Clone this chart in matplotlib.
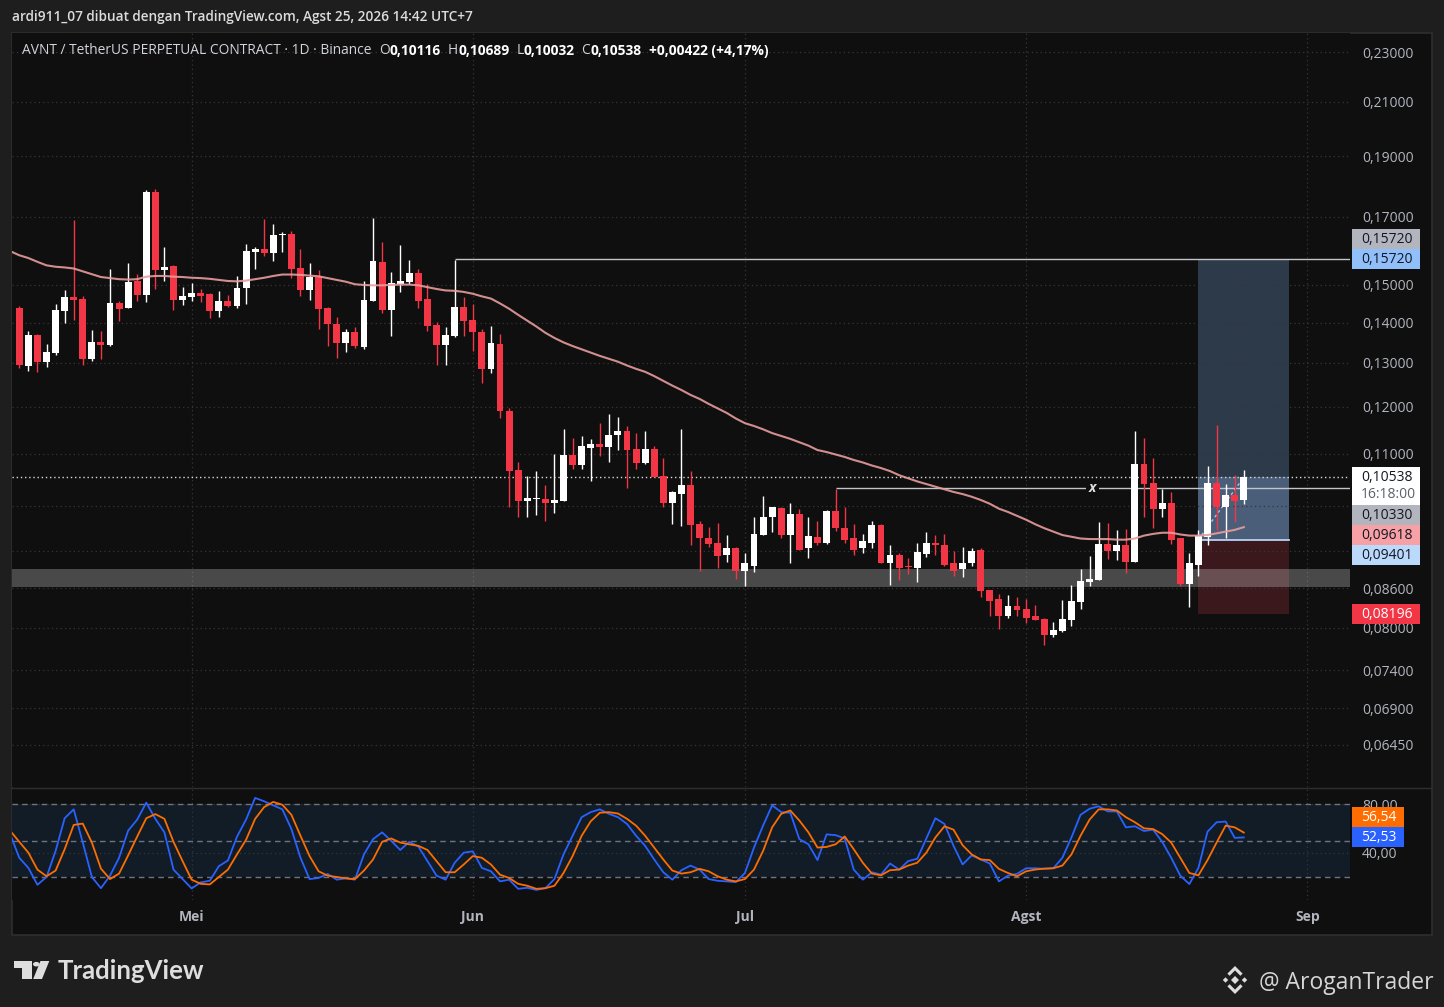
import numpy as np
import pandas as pd
import matplotlib
matplotlib.use('Agg')
import matplotlib.pyplot as plt
import matplotlib.dates as mdates
from matplotlib.patches import Rectangle, Polygon, Circle
from matplotlib.lines import Line2D
from matplotlib.ticker import NullLocator

plt.rcParams['font.family'] = ['Open Sans', 'DejaVu Sans']

W, H = 1444, 1007

# daily candles AVNT/USDT perp, 12 Apr -> 25 Aug 2026
dates = pd.date_range('2026-04-12', periods=136, freq='D')
opens = [.1439, .1293, .1368, .1302, .1324, .1430, .1467, .1462, .1309, .1351,
         .1344, .1451, .1438, .1511, .1473, .1778, .1542, .1553, .1459, .1467,
         .1478, .1475, .1430, .1456, .1443, .1492, .1593, .1602, .1590, .1644,
         .1647, .1548, .1486, .1522, .1438, .1397, .1349, .1376, .1339, .1456,
         .1564, .1433, .1503, .1508, .1533, .1462, .1394, .1344, .1366, .1441,
         .1407, .1376, .1285, .1346, .1191, .1068, .1009, .1013, .1013, .1006,
         .1009, .1098, .1078, .1113, .1121, .1115, .1140, .1148, .1110, .1082,
         .1110, .1057, .1006, .1022, .1039, .0968, .0943, .0935, .0914, .0926,
         .0888, .0896, .0948, .0979, .0997, .0948, .0986, .0925, .0945, .0935,
         .0991, .0961, .0942, .0925, .0935, .0966, .0901, .0914, .0896, .0893,
         .0916, .0935, .0931, .0900, .0890, .0900, .0923, .0857, .0843, .0817,
         .0832, .0828, .0817, .0813, .0789, .0795, .0811, .0839, .0870, .0873,
         .0933, .0921, .0931, .0903, .1080, .1043, .0995, .1006, .0942, .0867,
         .0898, .0945, .1043, .0998, .1020, .10116]
highs = [.1443, .1378, .1371, .1346, .1449, .1486, .1690, .1470, .1381, .1378,
         .1545, .1456, .1562, .1531, .1784, .1788, .1608, .1556, .1494, .1506,
         .1489, .1478, .1483, .1473, .1525, .1617, .1608, .1693, .1678, .1653,
         .1656, .1602, .1562, .1542, .1441, .1415, .1384, .1389, .1511, .1696,
         .1623, .1536, .1614, .1570, .1545, .1503, .1402, .1389, .1570, .1467,
         .1449, .1384, .1391, .1371, .1197, .1084, .1057, .1066, .1039, .1100,
         .1152, .1133, .1137, .1131, .1165, .1184, .1178, .1158, .1144, .1148,
         .1117, .1092, .1028, .1152, .1066, .0973, .0962, .0970, .0948, .0928,
         .0918, .0980, .1018, .0998, .0998, .1006, .0995, .0980, .0973, .0993,
         .1032, .0998, .0968, .0950, .0973, .0968, .0930, .0918, .0909, .0935,
         .0954, .0948, .0950, .0920, .0928, .0925, .0925, .0857, .0851, .0849,
         .0846, .0843, .0834, .0814, .0808, .0842, .0865, .0890, .0913, .0971,
         .0970, .0957, .0959, .1148, .1133, .1092, .1032, .1026, .0942, .0918,
         .0957, .1076, .1161, .1041, .1058, .10689]
lows = [.1288, .1281, .1279, .1291, .1319, .1400, .1407, .1295, .1304, .1309,
        .1341, .1403, .1438, .1456, .1454, .1489, .1512, .1433, .1446, .1456,
        .1454, .1412, .1415, .1441, .1438, .1449, .1545, .1582, .1567, .1593,
        .1520, .1470, .1459, .1384, .1341, .1312, .1326, .1336, .1334, .1456,
        .1425, .1366, .1481, .1503, .1438, .1378, .1295, .1295, .1363, .1366,
        .1329, .1253, .1276, .1175, .0998, .0980, .0980, .0984, .0973, .0988,
        .1009, .1070, .1070, .1047, .1096, .1084, .1108, .1034, .1070, .1080,
        .1055, .0998, .0968, .0964, .0931, .0888, .0928, .0893, .0903, .0875,
        .0863, .0886, .0948, .0954, .0942, .0900, .0923, .0909, .0931, .0933,
        .0955, .0935, .0914, .0918, .0926, .0900, .0865, .0873, .0882, .0870,
        .0911, .0914, .0895, .0880, .0877, .0896, .0846, .0817, .0798, .0814,
        .0817, .0807, .0811, .0775, .0786, .0794, .0802, .0828, .0863, .0873,
        .0908, .0906, .0885, .0903, .0979, .0961, .0979, .0933, .0863, .0831,
        .0880, .0931, .0957, .0942, .0971, .10032]
closes = [.1295, .1368, .1302, .1326, .1433, .1467, .1459, .1309, .1351, .1344,
          .1451, .1436, .1508, .1473, .1778, .1542, .1550, .1459, .1470, .1478,
          .1470, .1430, .1456, .1443, .1492, .1596, .1602, .1590, .1644, .1647,
          .1545, .1486, .1522, .1436, .1397, .1349, .1376, .1341, .1459, .1567,
          .1433, .1506, .1511, .1533, .1456, .1391, .1344, .1368, .1441, .1405,
          .1376, .1285, .1349, .1191, .1066, .1009, .1015, .1015, .1006, .1011,
          .1098, .1078, .1117, .1121, .1115, .1140, .1148, .1108, .1082, .1110,
          .1055, .1006, .1026, .1039, .0966, .0942, .0933, .0913, .0926, .0888,
          .0900, .0950, .0980, .0998, .0948, .0986, .0923, .0947, .0935, .0990,
          .0961, .0940, .0923, .0937, .0966, .0901, .0914, .0893, .0894, .0919,
          .0935, .0930, .0898, .0888, .0901, .0921, .0855, .0840, .0817, .0832,
          .0826, .0814, .0811, .0789, .0797, .0813, .0840, .0871, .0875, .0933,
          .0921, .0931, .0903, .1080, .1041, .0995, .1006, .0940, .0867, .0900,
          .0947, .1043, .0998, .1020, .1009, .10538]

# indicator values (one extra bar at the left edge)
ind_dates = pd.date_range('2026-04-11', periods=137, freq='D')
ma = [0.1596, 0.1584, 0.1576, 0.1565, 0.1555, 0.1551, 0.1549, 0.1546, 0.1538, 0.1530,
      0.1522, 0.1519, 0.1516, 0.1515, 0.1516, 0.1523, 0.1525, 0.1525, 0.1523, 0.1522,
      0.1520, 0.1519, 0.1517, 0.1514, 0.1511, 0.1510, 0.1512, 0.1516, 0.1520, 0.1525,
      0.1529, 0.1529, 0.1528, 0.1526, 0.1524, 0.1519, 0.1514, 0.1509, 0.1502, 0.1500,
      0.1499, 0.1499, 0.1500, 0.1501, 0.1501, 0.1499, 0.1494, 0.1489, 0.1485, 0.1484,
      0.1481, 0.1476, 0.1469, 0.1463, 0.1450, 0.1436, 0.1420, 0.1405, 0.1390, 0.1374,
      0.1361, 0.1350, 0.1341, 0.1333, 0.1325, 0.1317, 0.1310, 0.1303, 0.1294, 0.1286,
      0.1279, 0.1269, 0.1258, 0.1247, 0.1237, 0.1226, 0.1217, 0.1206, 0.1196, 0.1186,
      0.1174, 0.1164, 0.1158, 0.1151, 0.1143, 0.1137, 0.1131, 0.1124, 0.1117, 0.1108,
      0.1104, 0.1099, 0.1094, 0.1088, 0.1083, 0.1077, 0.1072, 0.1066, 0.1058, 0.1052,
      0.1046, 0.1041, 0.1036, 0.1031, 0.1026, 0.1022, 0.1017, 0.1011, 0.1004, 0.0995,
      0.0989, 0.0982, 0.0975, 0.0967, 0.0960, 0.0954, 0.0948, 0.0945, 0.0942, 0.0941,
      0.0941, 0.0941, 0.0940, 0.0940, 0.0942, 0.0947, 0.0950, 0.0952, 0.0952, 0.0949,
      0.0947, 0.0947, 0.0948, 0.0951, 0.0954, 0.0957, 0.09618]
stoch_k = [55.0, 35.8, 27.5, 13.6, 20.0, 41.4, 68.3, 75.6, 48.3, 20.0, 10.8,
           21.1, 35.8, 58.1, 67.2, 81.1, 67.8, 56.7, 26.1, 18.3, 10.6,
           15.6, 16.9, 28.9, 33.6, 53.1, 67.2, 85.0, 82.2, 78.9, 75.6,
           59.4, 35.8, 18.3, 19.2, 22.5, 17.8, 18.9, 17.8, 38.6, 51.1,
           56.7, 49.7, 42.2, 48.9, 45.0, 33.1, 21.1, 17.8, 31.7, 40.0,
           41.1, 27.5, 24.7, 16.4, 17.8, 10.3, 11.1, 9.4, 10.8, 18.3,
           38.6, 53.9, 69.2, 73.3, 75.6, 71.9, 69.2, 63.6, 53.9, 45.6,
           34.4, 23.9, 17.8, 25.6, 29.4, 26.1, 18.3, 16.9, 16.4, 15.8,
           23.3, 44.2, 62.2, 78.9, 73.3, 72.8, 51.1, 46.9, 33.9, 55.0,
           54.4, 51.7, 26.1, 17.8, 23.9, 21.9, 31.1, 26.1, 33.1, 35.0,
           51.7, 68.3, 63.6, 45.6, 30.3, 37.8, 34.4, 31.1, 16.4, 21.1,
           22.6, 27.2, 27.2, 26.7, 27.2, 35.8, 52.5, 71.1, 76.1, 78.1,
           73.9, 73.9, 60.8, 61.7, 57.8, 58.9, 48.9, 35.8, 21.1, 14.2,
           27.5, 57.2, 65.0, 65.6, 52.2, 52.53]
stoch_d = [58.0, 48.9, 40.0, 26.1, 20.6, 25.3, 42.8, 62.8, 63.9, 48.3, 26.9,
           18.3, 22.8, 37.8, 53.3, 68.3, 71.7, 67.8, 48.9, 33.1, 17.8,
           14.4, 13.9, 20.0, 26.1, 38.6, 50.6, 67.8, 77.5, 81.7, 79.4,
           71.1, 53.9, 37.2, 24.7, 21.1, 20.0, 18.9, 18.3, 25.3, 34.4,
           48.9, 51.7, 48.3, 46.9, 45.6, 42.2, 33.1, 23.9, 23.9, 30.3,
           37.2, 35.8, 30.3, 21.9, 19.2, 14.4, 12.8, 10.3, 10.8, 12.8,
           23.3, 37.2, 53.9, 65.8, 72.8, 73.3, 72.2, 67.8, 62.2, 53.9,
           44.2, 34.4, 25.3, 22.8, 23.9, 26.7, 24.7, 20.6, 17.8, 16.4,
           18.3, 26.1, 41.4, 60.8, 71.9, 74.7, 66.4, 56.7, 44.2, 44.7,
           46.9, 53.3, 42.8, 31.7, 22.8, 21.4, 25.6, 26.1, 29.4, 31.7,
           40.0, 52.5, 61.7, 58.9, 46.1, 38.6, 34.4, 33.9, 26.7, 23.3,
           20.6, 24.7, 26.1, 26.9, 27.2, 29.4, 38.6, 53.9, 67.2, 75.6,
           75.6, 74.7, 69.2, 65.0, 60.0, 59.4, 55.3, 48.3, 35.8, 23.3,
           21.4, 33.9, 48.3, 62.2, 60.8, 56.54]

month_ticks = pd.to_datetime(['2026-05-01', '2026-06-01', '2026-07-01', '2026-08-01', '2026-09-01'])
month_labels = ['Mei', 'Jun', 'Jul', 'Agst', 'Sep']
price_ticks = [0.23, 0.21, 0.19, 0.17, 0.15, 0.14, 0.13, 0.12, 0.11, 0.10, 0.092,
               0.086, 0.080, 0.074, 0.069, 0.0645]
hidden_ticks = [0.10, 0.092]

target, entry, stop = 0.1572, 0.09401, 0.08196
level_high, level_mid = 0.1572, 0.1033
support_lo, support_hi = 0.0861, 0.0890
countdown = '16:18:00'

FS = 10


def fmt(v):
    return f'{v:.5f}'.replace('.', ',')


def fx(px):
    return px / W


def fy(py):
    return 1 - py / H


x = mdates.date2num(dates)
xi = mdates.date2num(ind_dates)
o, h, l, c = map(np.array, (opens, highs, lows, closes))
col = np.where(c >= o, '#ffffff', '#f23645')

fig = plt.figure(figsize=(W / 100, H / 100), dpi=100, facecolor='#1e1e1e')
fig.add_artist(Rectangle((fx(11.5), fy(934.5)), (1432 - 11.5) / W, (934.5 - 32.5) / H,
                         transform=fig.transFigure, fc='#0f0f0f', ec='#2e2e2e', lw=1.2, zorder=-5))

ax = fig.add_axes([fx(12), fy(787), 1338 / W, 754 / H])
ax2 = fig.add_axes([fx(12), fy(900), 1338 / W, 112 / H])
for a in (ax, ax2):
    a.set_facecolor('#0f0f0f')
    for s in a.spines.values():
        s.set_visible(False)
    a.set_xlim(x[0] - 0.805, x[0] + 146.71)
    a.set_xticks(mdates.date2num(month_ticks))
    a.grid(True, color='#363636', ls=(0, (1, 2.5)), lw=0.9)
    a.set_axisbelow('line')
    a.yaxis.tick_right()
    a.tick_params(length=0, labelsize=FS, labelcolor='#b2b5be', pad=8.6)
ax.tick_params(axis='x', labelbottom=False)

# price pane
ax.set_yscale('log')
ax.set_ylim(0.059705, 0.23817)
ax.set_yticks(price_ticks)
ax.set_yticklabels(['' if p in hidden_ticks else fmt(p) for p in price_ticks])
ax.yaxis.set_minor_locator(NullLocator())
xr = ax.get_xlim()[1]

# long position tool
xs, xe = x[130], x[130] + 10
ax.fill_between([xs, xe], entry, target, color='#2d3a4a', lw=0, zorder=1)
ax.fill_between([xs, xe], entry, c[-1], color='#4a5e79', lw=0, zorder=1.1)
ax.fill_between([xs, xe], stop, entry, color='#3a181c', lw=0, zorder=1)
ax.plot([xs, xe], [entry, entry], color='#b7d3f5', lw=1.3, zorder=2.2)
ax.plot([xs, x[-1]], [entry, c[-1]], color='#a9c3e6', lw=1, ls=(0, (2, 2)), zorder=2.2)

ax.axhspan(support_lo, support_hi, color='#e0e0e0', alpha=0.28, lw=0, zorder=2)
ax.hlines(level_high, x[48], xr, color='#c3c5cb', lw=1, zorder=2.5)
ax.hlines(level_mid, x[90], xr, color='#c3c5cb', lw=1, zorder=2.5)
ax.text((x[90] + xr) / 2, level_mid, 'x', ha='center', va='center', color='#e0e0e0',
        style='italic', weight='bold', fontsize=10, zorder=2.6,
        bbox=dict(fc='#0f0f0f', ec='none', pad=2))
ax.axhline(c[-1], color='#d9d9d9', lw=1, ls=(0, (1, 2)), zorder=2.6)

body_low = np.minimum(o, c)
body_h = np.maximum(np.abs(c - o), body_low * 0.002)
ax.vlines(x, l, h, color=col, lw=1, zorder=3)
ax.bar(x, body_h, bottom=body_low, width=0.76, color=col, lw=0, zorder=4)
ax.plot(xi, ma, color='#e89d9d', lw=1.5, alpha=0.9, zorder=5)

# stoch rsi pane
ax2.set_ylim(1.10, 93.15)
ax2.set_yticks([40, 80])
ax2.set_yticklabels(['40,00', '80,00'])
ax2.set_xticklabels(month_labels, fontweight='bold')
ax2.tick_params(axis='x', pad=7.2)
ax2.axhspan(20, 80, color='#111c26', lw=0, zorder=0.8)
for lv in (80, 50, 20):
    ax2.axhline(lv, color='#6f7280', lw=1, ls=(0, (4, 3)), zorder=1.6)
ax2.plot(xi, stoch_k, color='#2962ff', lw=1.3, zorder=3)
ax2.plot(xi, stoch_d, color='#ff6d00', lw=1.3, zorder=3.2)

fig.add_artist(Line2D([fx(11.5), fx(1432)], [fy(787.5)] * 2, transform=fig.transFigure,
                      color='#2e2e2e', lw=1))


# right-hand price tags
def ypix(a, v):
    return H - a.transData.transform((a.get_xlim()[0], v))[1]


def tag(top, text, fc, tc, w=68, hh=20):
    fig.add_artist(Rectangle((fx(1352), fy(top + hh)), w / W, hh / H, transform=fig.transFigure,
                             fc=fc, ec='none', zorder=5))
    fig.text(fx(1361), fy(top + 10), text, color=tc, fontsize=FS, va='center', ha='left', zorder=6)


t = ypix(ax, target) - 10
tag(t, fmt(target), '#90bff9', '#131722')
tag(t - 20, fmt(level_high), '#b2b5be', '#131722')

stack = [(c[-1], '#ffffff', '#131722', 38), (level_mid, '#b2b5be', '#131722', 20),
         (ma[-1], '#f7a1a6', '#131722', 20), (entry, '#bbd9fb', '#131722', 20),
         (stop, '#f23645', '#ffffff', 20)]
floor = -1e9
for val, fc, tc, hh in stack:
    top = max(ypix(ax, val) - 10, floor)
    tag(top, fmt(val), fc, tc, hh=hh)
    if hh > 20:
        fig.text(fx(1361), fy(top + 27), countdown, color='#5d606b', fontsize=FS,
                 va='center', ha='left', zorder=6)
    floor = top + hh

tk = ypix(ax2, stoch_k[-1]) - 10
tag(tk, f'{stoch_k[-1]:.2f}'.replace('.', ','), '#2962ff', '#ffffff', w=52)
tag(tk - 20, f'{stoch_d[-1]:.2f}'.replace('.', ','), '#ff6d00', '#ffffff', w=52)

# header texts
fig.text(fx(12), fy(17.5), 'ardi911_07 dibuat dengan TradingView.com, Agst 25, 2026 14:42 UTC+7',
         color='#dcdcdc', fontsize=9.8, weight='semibold', va='center')

chg = c[-1] - o[-1]
parts = [('AVNT / TetherUS PERPETUAL CONTRACT · 1D · Binance', '#d1d4dc', 'normal', 0),
         ('O', '#d1d4dc', 'normal', 5.5), (fmt(o[-1]), '#ffffff', 'bold', 0),
         ('H', '#d1d4dc', 'normal', 5), (fmt(h[-1]), '#ffffff', 'bold', 0),
         ('L', '#d1d4dc', 'normal', 5), (fmt(l[-1]), '#ffffff', 'bold', 0),
         ('C', '#d1d4dc', 'normal', 5), (fmt(c[-1]), '#ffffff', 'bold', 0),
         (f'+{fmt(chg)} (+{chg / o[-1] * 100:.2f}%)'.replace('.', ','), '#ffffff', 'bold', 5.5)]
prev = None
for s, color, weight, gap in parts:
    if prev is None:
        prev = ax.annotate(s, xy=(22, H - 51), xycoords='figure pixels', va='center', ha='left',
                           color=color, weight=weight, fontsize=9.9)
    else:
        prev = ax.annotate(s, xy=(1, 0.5), xycoords=prev, xytext=(gap, 0), textcoords='offset points',
                           va='center', ha='left', color=color, weight=weight, fontsize=9.9)

# watermarks
P = lambda pts: [(fx(a), fy(b)) for a, b in pts]
wm = '#dedede'
fig.add_artist(Polygon(P([(14, 961), (31.7, 961), (31.7, 979), (21.5, 979), (21.5, 967.5), (14, 967.5)]),
                       closed=True, transform=fig.transFigure, fc=wm, ec='none'))
fig.add_artist(Circle((fx(36.3), fy(964.2)), 3.3 / W, transform=fig.transFigure, fc=wm, ec='none'))
fig.add_artist(Polygon(P([(40.5, 961), (49.3, 961), (42, 979), (33.2, 979)]),
                       closed=True, transform=fig.transFigure, fc=wm, ec='none'))
fig.text(fx(58), fy(979), 'TradingView', color=wm, fontsize=18.5, weight='bold',
         family=['Lato', 'DejaVu Sans'], va='baseline')

cx, cy = 1235, 980
shapes = [[(0, -4), (4, 0), (0, 4), (-4, 0)],
          [(-9.5, -2.7), (-6.8, 0), (-9.5, 2.7), (-12.2, 0)],
          [(9.5, -2.7), (12.2, 0), (9.5, 2.7), (6.8, 0)],
          [(0, -14), (7.6, -6.4), (5.4, -4.2), (0, -9.6), (-5.4, -4.2), (-7.6, -6.4)],
          [(0, 14), (7.6, 6.4), (5.4, 4.2), (0, 9.6), (-5.4, 4.2), (-7.6, 6.4)]]
for sh in shapes:
    fig.add_artist(Polygon(P([(cx + a, cy + b) for a, b in sh]), closed=True,
                           transform=fig.transFigure, fc=wm, ec='none'))
fig.text(fx(1434), fy(989), '@ AroganTrader', color='#d6d6d6', fontsize=16.5, ha='right', va='baseline')

fig.savefig('out.png', dpi=100, facecolor=fig.get_facecolor())
